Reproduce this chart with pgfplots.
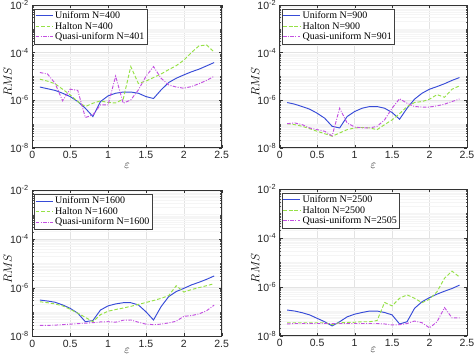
\documentclass[border=0pt]{standalone}
\usepackage{fontspec}
\setmainfont{Liberation Serif}
\setsansfont{Liberation Sans}
\usepackage{pgfplots}
\usepackage{pgfplotstable}
\pgfplotsset{compat=1.18}

\definecolor{cU}{RGB}{55,75,215}
\definecolor{cH}{RGB}{150,225,70}
\definecolor{cQ}{RGB}{195,80,225}

\pgfplotstableread{
x u h q
0.1 3.55e-6 7.59e-6 1.45e-5
0.2 3.02e-6 6.31e-6 1.26e-5
0.3 2.57e-6 4.90e-6 5.13e-6
0.4 1.95e-6 2.88e-6 9.33e-7
0.5 1.41e-6 1.66e-6 2.88e-6
0.6 8.71e-7 8.71e-7 2.57e-6
0.7 4.57e-7 5.37e-7 1.86e-7
0.8 2.04e-7 7.41e-7 2.40e-7
0.9 8.71e-7 9.33e-7 6.31e-7
1.0 1.51e-6 7.94e-7 6.31e-7
1.1 1.95e-6 7.59e-7 1.02e-5
1.2 2.19e-6 1.10e-6 7.41e-7
1.3 2.19e-6 2.57e-5 1.02e-6
1.4 1.95e-6 5.01e-6 2.69e-6
1.5 1.41e-6 6.31e-6 1.00e-5
1.6 1.17e-6 8.91e-6 2.57e-5
1.7 2.69e-6 1.26e-5 8.32e-6
1.8 5.50e-6 1.91e-5 4.37e-6
1.9 8.32e-6 2.82e-5 3.55e-6
2.0 1.15e-5 4.79e-5 3.16e-6
2.1 1.55e-5 1.00e-4 3.72e-6
2.2 2.00e-5 1.91e-4 4.90e-6
2.3 2.75e-5 2.09e-4 6.76e-6
2.4 3.80e-5 1.05e-4 1.00e-5
}\tA

\pgfplotstableread{
x u h q
0.1 7.94e-7 1.02e-7 1.02e-7
0.2 6.76e-7 9.33e-8 1.10e-7
0.3 5.37e-7 7.94e-8 9.33e-8
0.4 4.17e-7 6.31e-8 6.76e-8
0.5 2.82e-7 4.90e-8 5.75e-8
0.6 1.74e-7 3.89e-8 4.90e-8
0.7 7.94e-8 3.02e-8 3.16e-8
0.8 6.76e-8 4.17e-8 4.57e-7
0.9 2.04e-7 5.75e-8 1.10e-7
1.0 3.31e-7 6.76e-8 7.41e-8
1.1 4.57e-7 7.08e-8 6.76e-8
1.2 5.37e-7 6.76e-8 6.76e-8
1.3 5.37e-7 5.75e-8 7.94e-8
1.4 4.57e-7 9.33e-8 1.48e-7
1.5 3.02e-7 1.48e-7 4.57e-7
1.6 1.58e-7 2.69e-7 1.15e-6
1.7 4.57e-7 5.37e-7 7.41e-7
1.8 1.10e-6 7.94e-7 5.37e-7
1.9 1.95e-6 8.71e-7 5.13e-7
2.0 2.88e-6 1.10e-6 5.13e-7
2.1 3.72e-6 1.70e-6 5.75e-7
2.2 4.90e-6 1.32e-6 6.76e-7
2.3 6.76e-6 2.88e-6 8.71e-7
2.4 8.91e-6 3.98e-6 1.12e-6
}\tB

\pgfplotstableread{
x u h q
0.1 3.09e-7 2.63e-7 2.82e-8
0.2 2.82e-7 2.40e-7 2.82e-8
0.3 2.51e-7 2.14e-7 2.88e-8
0.4 1.95e-7 1.78e-7 3.02e-8
0.5 1.41e-7 1.29e-7 3.16e-8
0.6 8.91e-8 8.91e-8 3.31e-8
0.7 3.98e-8 6.03e-8 3.47e-8
0.8 4.47e-8 3.98e-8 3.63e-8
0.9 1.20e-7 7.76e-8 3.89e-8
1.0 1.78e-7 1.07e-7 3.98e-8
1.1 2.14e-7 1.26e-7 3.80e-8
1.2 2.40e-7 1.45e-7 4.57e-8
1.3 2.40e-7 1.70e-7 4.68e-8
1.4 1.95e-7 2.04e-7 3.80e-8
1.5 1.02e-7 2.45e-7 3.16e-8
1.6 4.68e-8 2.95e-7 3.02e-8
1.7 1.66e-7 3.63e-7 3.16e-8
1.8 4.27e-7 4.68e-7 3.55e-8
1.9 6.92e-7 1.20e-6 4.17e-8
2.0 9.33e-7 6.61e-7 6.61e-8
2.1 1.29e-6 8.32e-7 7.08e-8
2.2 1.66e-6 1.00e-6 8.32e-8
2.3 2.19e-6 1.20e-6 1.12e-7
2.4 3.02e-6 1.45e-6 1.91e-7
}\tC

\pgfplotstableread{
x u h q
0.1 1.12e-7 3.39e-8 3.02e-8
0.2 1.02e-7 3.39e-8 3.16e-8
0.3 8.71e-8 3.39e-8 3.16e-8
0.4 7.08e-8 3.39e-8 3.16e-8
0.5 5.13e-8 3.39e-8 3.16e-8
0.6 3.72e-8 3.39e-8 3.16e-8
0.7 2.51e-8 2.82e-8 3.16e-8
0.8 3.72e-8 3.39e-8 3.16e-8
0.9 5.89e-8 3.47e-8 3.16e-8
1.0 7.59e-8 3.55e-8 3.16e-8
1.1 8.91e-8 3.72e-8 3.16e-8
1.2 1.02e-7 3.72e-8 3.16e-8
1.3 1.02e-7 4.17e-8 3.16e-8
1.4 8.91e-8 2.29e-7 3.02e-8
1.5 7.08e-8 1.66e-7 2.75e-8
1.6 3.02e-8 3.39e-7 2.82e-8
1.7 3.72e-8 4.68e-7 3.16e-8
1.8 1.32e-7 3.39e-7 3.98e-8
1.9 2.45e-7 2.24e-7 3.39e-8
2.0 3.63e-7 3.09e-7 2.09e-8
2.1 5.01e-7 6.31e-7 3.72e-8
2.2 6.61e-7 2.24e-6 1.41e-7
2.3 8.51e-7 4.37e-6 5.37e-8
2.4 1.17e-6 2.51e-6 5.37e-8
}\tD

\pgfplotsset{
  /pgfplots/chartpanel/.style={
    scale only axis,
    xmin=0, xmax=2.5, ymin=1e-8, ymax=1e-2,
    xtick={0,0.5,1,1.5,2,2.5},
    xticklabels={0,0.5,1,1.5,2,2.5},
    ytick={1e-8,1e-6,1e-4,1e-2},
    yticklabels={10\textsuperscript{-8},10\textsuperscript{-6},10\textsuperscript{-4},10\textsuperscript{-2}},
    minor ytick={2e-8,3e-8,4e-8,5e-8,6e-8,7e-8,8e-8,9e-8,1e-7,2e-7,3e-7,4e-7,5e-7,6e-7,7e-7,8e-7,9e-7,2e-6,3e-6,4e-6,5e-6,6e-6,7e-6,8e-6,9e-6,1e-5,2e-5,3e-5,4e-5,5e-5,6e-5,7e-5,8e-5,9e-5,2e-4,3e-4,4e-4,5e-4,6e-4,7e-4,8e-4,9e-4,1e-3,2e-3,3e-3,4e-3,5e-3,6e-3,7e-3,8e-3,9e-3},
    tick label style={font=\sffamily\fontsize{10.5}{11}\selectfont, black!85},
    grid=both,
    major grid style={black!11, line width=0.35pt},
    minor grid style={black!4, line width=0.3pt},
    axis line style={black!80, line width=0.5pt},
    major tick style={black!80},
    minor tick style={black!70},
    major tick length=3pt,
    minor tick length=1.5pt,
    xlabel={$\varepsilon$},
    ylabel={$RMS$},
    label style={font=\fontsize{11.5}{12}\selectfont},
    xlabel style={yshift=2pt},
    ylabel style={at={(axis description cs:-0.13,0.46)}, anchor=center},
    legend style={at={(0.01,0.975)}, anchor=north west, draw=black!75, line width=0.4pt,
      font=\fontsize{10}{10.5}\selectfont, inner sep=0.8pt, row sep=-2pt, fill=white},
    legend cell align=left,
  },
}
\tikzset{
  lu/.style={cU, line width=0.95pt},
  lh/.style={cH, line width=0.95pt, dash pattern=on 3.5pt off 2pt},
  lq/.style={cQ, line width=0.95pt, dash pattern=on 3.5pt off 1.5pt on 0.9pt off 1.5pt},
}

\begin{document}
\begin{tikzpicture}
\useasboundingbox (0pt,0pt) rectangle (474pt,356pt);

\begin{semilogyaxis}[chartpanel, anchor=south west, at={(32.3pt,208.3pt)}, width=189.4pt, height=142.7pt]
\addplot[lu] table[x=x,y=u]{\tA};
\addplot[lh] table[x=x,y=h]{\tA};
\addplot[lq] table[x=x,y=q]{\tA};
\legend{Uniform N=400,Halton N=400,Quasi-uniform N=401}
\end{semilogyaxis}

\begin{semilogyaxis}[chartpanel, anchor=south west, at={(279.7pt,208.3pt)}, width=187.3pt, height=142.7pt]
\addplot[lu] table[x=x,y=u]{\tB};
\addplot[lh] table[x=x,y=h]{\tB};
\addplot[lq] table[x=x,y=q]{\tB};
\legend{Uniform N=900,Halton N=900,Quasi-uniform N=901}
\end{semilogyaxis}

\begin{semilogyaxis}[chartpanel, anchor=south west, at={(32.3pt,19.7pt)}, width=189.4pt, height=146pt, xlabel style={yshift=4pt}]
\addplot[lu] table[x=x,y=u]{\tC};
\addplot[lh] table[x=x,y=h]{\tC};
\addplot[lq] table[x=x,y=q]{\tC};
\legend{Uniform N=1600,Halton N=1600,Quasi-uniform N=1600}
\end{semilogyaxis}

\begin{semilogyaxis}[chartpanel, anchor=south west, at={(279.7pt,20.3pt)}, width=187.3pt, height=146.7pt, xlabel style={yshift=4pt}]
\addplot[lu] table[x=x,y=u]{\tD};
\addplot[lh] table[x=x,y=h]{\tD};
\addplot[lq] table[x=x,y=q]{\tD};
\legend{Uniform N=2500,Halton N=2500,Quasi-uniform N=2505}
\end{semilogyaxis}
\end{tikzpicture}
\end{document}
